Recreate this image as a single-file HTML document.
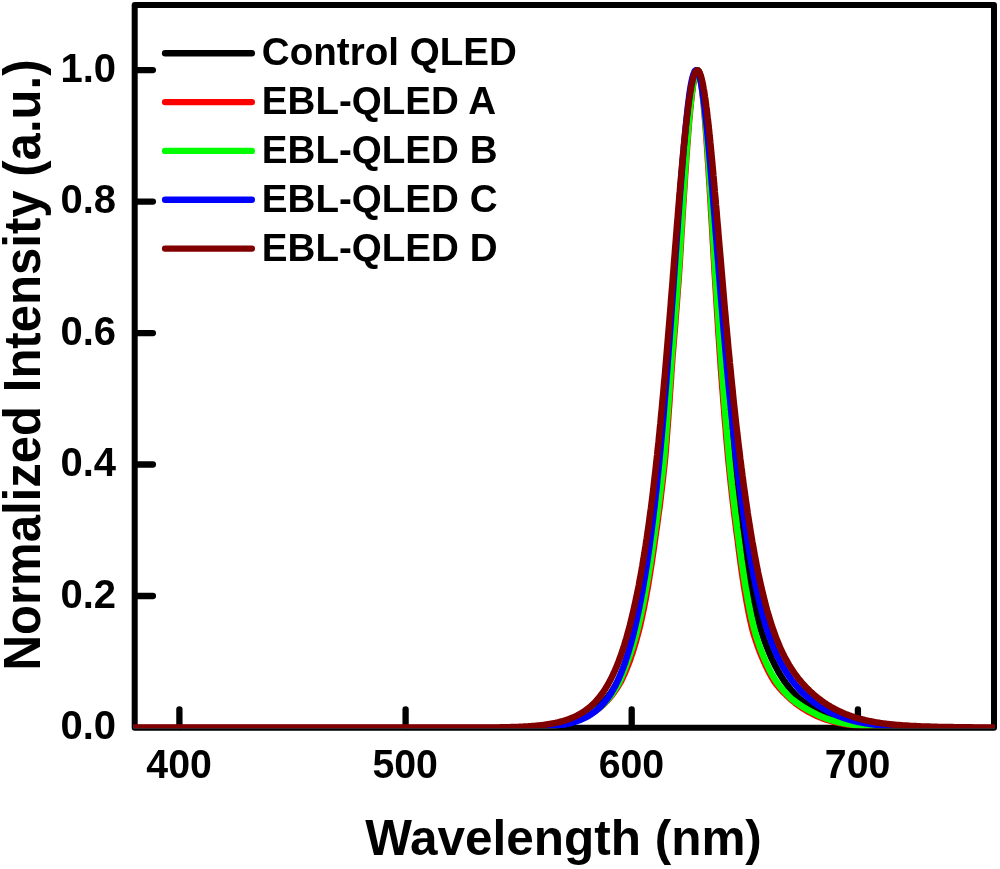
<!DOCTYPE html>
<html lang="en">
<head>
<meta charset="utf-8">
<title>Normalized EL spectra</title>
<style>
html,body{margin:0;padding:0;background:#fff;}
body{width:1000px;height:869px;overflow:hidden;}
svg{display:block;}
</style>
</head>
<body>
<svg width="1000" height="869" viewBox="0 0 1000 869">
<rect width="1000" height="869" fill="#fff"/>
<rect x="134.7" y="5" width="859.3" height="722.8" fill="none" stroke="#000" stroke-width="6" stroke-linejoin="round"/>
<g stroke="#000" stroke-width="6.3" stroke-linecap="round">
<line x1="179.4" y1="727" x2="179.4" y2="709.5"/>
<line x1="405.6" y1="727" x2="405.6" y2="709.5"/>
<line x1="631.7" y1="727" x2="631.7" y2="709.5"/>
<line x1="857.9" y1="727" x2="857.9" y2="709.5"/>
<line x1="137" y1="596.0" x2="152.9" y2="596.0"/>
<line x1="137" y1="464.5" x2="152.9" y2="464.5"/>
<line x1="137" y1="333.1" x2="152.9" y2="333.1"/>
<line x1="137" y1="201.6" x2="152.9" y2="201.6"/>
<line x1="137" y1="70.1" x2="152.9" y2="70.1"/>
</g>
<clipPath id="plotclip"><rect x="133.5" y="0" width="861.3" height="728.2"/></clipPath>
<g fill="none" stroke-width="6.5" stroke-linejoin="round" stroke-linecap="butt" clip-path="url(#plotclip)">
<path stroke="#000000" d="M130.0,728.3 L459.5,728.3 L461.0,728.3 L462.4,728.3 L463.8,728.3 L465.2,728.3 L466.6,728.3 L468.1,728.3 L469.5,728.3 L470.9,728.3 L472.4,728.3 L473.8,728.3 L475.2,728.3 L476.7,728.3 L478.1,728.3 L479.5,728.3 L481.0,728.3 L482.4,728.3 L483.9,728.3 L485.3,728.3 L486.8,728.2 L488.2,728.2 L489.7,728.2 L491.1,728.2 L492.6,728.2 L494.1,728.2 L495.5,728.2 L497.0,728.2 L498.4,728.2 L499.9,728.2 L501.4,728.2 L502.9,728.1 L504.3,728.1 L505.8,728.1 L507.3,728.1 L508.8,728.1 L510.3,728.0 L511.8,728.0 L513.3,728.0 L514.8,728.0 L516.3,727.9 L517.8,727.9 L519.3,727.9 L520.8,727.8 L522.3,727.8 L523.8,727.7 L525.3,727.7 L526.9,727.6 L528.4,727.5 L529.1,727.5 L529.9,727.5 L530.7,727.4 L531.4,727.4 L532.2,727.3 L533.0,727.3 L533.8,727.3 L534.5,727.2 L535.3,727.2 L536.1,727.1 L536.9,727.1 L537.6,727.0 L538.4,727.0 L539.2,726.9 L540.0,726.8 L540.7,726.8 L541.5,726.7 L542.3,726.6 L543.1,726.6 L543.9,726.5 L544.7,726.4 L545.4,726.3 L546.2,726.3 L547.0,726.2 L547.8,726.1 L548.6,726.0 L549.4,725.9 L550.2,725.8 L551.0,725.7 L551.8,725.6 L552.6,725.5 L553.4,725.4 L554.2,725.2 L555.0,725.1 L555.8,725.0 L556.6,724.9 L557.4,724.7 L558.2,724.6 L559.0,724.4 L559.8,724.3 L560.6,724.1 L561.4,724.0 L562.2,723.8 L563.0,723.6 L563.8,723.4 L564.6,723.3 L565.4,723.1 L566.2,722.9 L567.0,722.7 L567.8,722.4 L568.6,722.2 L569.4,722.0 L570.2,721.8 L571.1,721.5 L571.9,721.3 L572.7,721.0 L573.5,720.7 L574.3,720.5 L575.1,720.2 L575.9,719.9 L576.7,719.6 L577.5,719.3 L578.3,718.9 L579.1,718.6 L579.9,718.3 L580.7,717.9 L581.5,717.5 L582.3,717.2 L583.1,716.8 L583.9,716.4 L584.7,716.0 L585.5,715.5 L586.3,715.1 L587.1,714.6 L587.9,714.2 L588.8,713.7 L589.6,713.2 L590.4,712.7 L591.2,712.2 L592.0,711.6 L592.8,711.1 L593.6,710.5 L594.4,709.9 L595.2,709.3 L596.0,708.7 L596.8,708.1 L597.6,707.4 L598.4,706.8 L599.2,706.1 L600.0,705.4 L600.7,704.6 L601.5,703.9 L602.3,703.1 L603.1,702.3 L603.9,701.5 L604.6,700.7 L605.3,699.9 L606.1,699.0 L606.8,698.1 L607.6,697.2 L608.3,696.2 L609.0,695.3 L609.8,694.3 L610.5,693.3 L611.2,692.3 L612.0,691.2 L612.7,690.1 L613.4,689.0 L614.1,687.9 L614.8,686.7 L615.6,685.5 L616.3,684.3 L617.0,683.0 L617.7,681.8 L618.3,680.5 L618.9,679.1 L619.5,677.8 L620.1,676.4 L620.8,674.9 L621.4,673.5 L622.0,672.0 L622.6,670.5 L623.2,668.9 L623.8,667.3 L624.4,665.7 L625.0,664.1 L625.6,662.4 L626.2,660.7 L626.9,658.9 L627.5,657.1 L628.2,655.3 L628.8,653.4 L629.5,651.5 L630.1,649.6 L630.8,647.6 L631.4,645.6 L632.1,643.5 L632.7,641.5 L633.3,639.3 L634.0,637.2 L634.6,635.0 L635.2,632.7 L635.9,630.4 L636.4,628.1 L637.0,625.8 L637.6,623.3 L638.2,620.9 L638.7,618.4 L639.3,615.9 L639.9,613.3 L640.5,610.7 L641.0,608.1 L641.6,605.4 L642.1,602.6 L642.7,599.9 L643.2,597.0 L643.8,594.2 L644.4,591.3 L644.9,588.3 L645.4,585.3 L646.0,582.3 L646.5,579.2 L647.1,576.1 L647.6,573.0 L648.1,569.8 L648.7,566.5 L649.2,563.2 L649.7,559.9 L650.2,556.5 L650.7,553.1 L651.3,549.7 L651.8,546.2 L652.3,542.6 L652.8,539.0 L653.4,535.4 L653.9,531.8 L654.5,528.1 L655.0,524.3 L655.6,520.5 L656.1,516.7 L656.6,512.9 L657.2,509.0 L657.7,505.0 L658.2,501.0 L658.7,497.0 L659.2,493.0 L659.7,488.9 L660.3,484.8 L660.8,480.6 L661.3,476.4 L661.7,472.2 L662.2,468.0 L662.7,463.7 L663.2,459.3 L663.6,455.0 L664.0,450.6 L664.3,446.2 L664.7,441.8 L665.1,437.3 L665.4,432.8 L665.8,428.3 L666.2,423.7 L666.5,419.2 L666.9,414.6 L667.2,410.0 L667.6,405.3 L667.9,400.7 L668.3,396.0 L668.6,391.3 L668.9,386.6 L669.3,381.9 L669.6,377.2 L670.0,372.4 L670.3,367.7 L670.6,362.9 L671.0,358.1 L671.4,353.3 L671.8,348.5 L672.3,343.7 L672.7,338.9 L673.1,334.1 L673.5,329.3 L673.9,324.5 L674.3,319.7 L674.7,314.9 L675.1,310.1 L675.5,305.3 L675.8,300.5 L676.2,295.7 L676.6,290.9 L677.0,286.2 L677.3,281.4 L677.7,276.7 L678.1,272.0 L678.4,267.3 L678.7,262.6 L679.0,258.0 L679.3,253.3 L679.6,248.7 L679.9,244.1 L680.2,239.6 L680.5,235.1 L680.8,230.6 L681.0,226.1 L681.3,221.7 L681.6,217.3 L681.9,212.9 L682.2,208.6 L682.5,204.3 L682.7,200.1 L683.0,195.9 L683.3,191.7 L683.6,187.6 L683.9,183.5 L684.1,179.5 L684.4,175.6 L684.7,171.7 L685.0,167.8 L685.2,164.0 L685.5,160.3 L685.8,156.6 L686.1,153.0 L686.3,149.4 L686.6,145.9 L686.9,142.5 L687.1,139.1 L687.4,135.8 L687.7,132.6 L687.9,129.4 L688.2,126.3 L688.5,123.3 L688.8,120.3 L689.0,117.5 L689.3,114.7 L689.5,111.9 L689.8,109.3 L690.1,106.7 L690.3,104.2 L690.6,101.8 L690.9,99.5 L691.1,97.3 L691.4,95.1 L691.7,93.0 L691.9,91.0 L692.2,89.1 L692.4,87.3 L692.7,85.6 L693.0,84.0 L693.2,82.4 L693.5,81.0 L693.8,79.6 L694.0,78.3 L694.3,77.1 L694.5,76.1 L694.8,75.1 L695.1,74.2 L695.3,73.4 L695.6,72.6 L695.8,72.0 L696.4,71.1 L696.9,70.5 L697.7,70.3 L698.2,70.7 L698.7,71.5 L699.2,72.6 L699.5,73.4 L699.7,74.2 L700.0,75.1 L700.2,76.1 L700.5,77.1 L700.8,78.3 L701.0,79.6 L701.3,81.0 L701.6,82.4 L701.8,84.0 L702.1,85.6 L702.3,87.3 L702.6,89.1 L702.9,91.0 L703.1,93.0 L703.4,95.1 L703.7,97.3 L703.9,99.5 L704.2,101.8 L704.5,104.2 L704.7,106.7 L705.0,109.3 L705.3,111.9 L705.5,114.7 L705.8,117.5 L706.1,120.3 L706.3,123.3 L706.6,126.3 L706.9,129.4 L707.2,132.6 L707.4,135.8 L707.7,139.1 L708.0,142.5 L708.3,145.9 L708.6,149.4 L708.8,153.0 L709.1,156.6 L709.4,160.3 L709.7,164.0 L710.0,167.8 L710.3,171.7 L710.5,175.6 L710.8,179.5 L711.1,183.5 L711.4,187.6 L711.7,191.7 L712.0,195.9 L712.3,200.1 L712.6,204.3 L712.9,208.6 L713.2,212.9 L713.5,217.3 L713.8,221.7 L714.1,226.1 L714.4,230.6 L714.7,235.1 L715.0,239.6 L715.4,244.1 L715.7,248.7 L716.0,253.3 L716.3,258.0 L716.6,262.6 L717.0,267.3 L717.3,272.0 L717.6,276.7 L717.9,281.4 L718.3,286.2 L718.6,290.9 L719.0,295.7 L719.3,300.5 L719.6,305.3 L720.0,310.1 L720.3,314.9 L720.7,319.7 L721.0,324.5 L721.4,329.3 L721.8,334.1 L722.1,338.9 L722.5,343.7 L722.9,348.5 L723.2,353.3 L723.6,358.1 L724.0,362.9 L724.4,367.7 L724.7,372.4 L725.1,377.2 L725.5,381.9 L725.9,386.6 L726.3,391.3 L726.7,396.0 L727.1,400.7 L727.5,405.3 L727.9,410.0 L728.3,414.6 L728.7,419.2 L729.2,423.7 L729.6,428.3 L730.0,432.8 L730.4,437.3 L730.9,441.8 L731.3,446.2 L731.7,450.6 L732.2,455.0 L732.6,459.3 L733.1,463.7 L733.6,468.0 L734.1,472.2 L734.6,476.4 L735.0,480.6 L735.5,484.8 L736.0,488.9 L736.5,493.0 L737.1,497.0 L737.6,501.0 L738.1,505.0 L738.6,509.0 L739.1,512.9 L739.7,516.7 L740.2,520.5 L740.7,524.3 L741.2,528.1 L741.8,531.8 L742.3,535.4 L742.9,539.0 L743.4,542.6 L743.9,546.2 L744.5,549.7 L745.0,553.1 L745.5,556.5 L746.1,559.9 L746.6,563.2 L747.2,566.5 L747.7,569.8 L748.3,573.0 L748.8,576.1 L749.4,579.2 L750.0,582.3 L750.5,585.3 L751.1,588.3 L751.7,591.3 L752.3,594.2 L752.9,597.0 L753.5,599.9 L754.1,602.6 L754.7,605.4 L755.3,608.1 L755.9,610.7 L756.5,613.3 L757.2,615.9 L757.8,618.4 L758.5,620.9 L759.1,623.3 L759.8,625.8 L760.4,628.1 L761.1,630.4 L761.8,632.7 L762.6,635.0 L763.3,637.2 L764.0,639.3 L764.8,641.5 L765.6,643.5 L766.3,645.6 L767.1,647.6 L767.9,649.6 L768.7,651.5 L769.5,653.4 L770.3,655.3 L771.1,657.1 L771.9,658.9 L772.8,660.7 L773.6,662.4 L774.4,664.1 L775.2,665.7 L776.1,667.3 L776.9,668.9 L777.8,670.5 L778.6,672.0 L779.5,673.5 L780.4,674.9 L781.3,676.4 L782.2,677.8 L783.0,679.1 L783.9,680.5 L784.9,681.8 L785.8,683.0 L786.7,684.3 L787.6,685.5 L788.5,686.7 L789.5,687.9 L790.4,689.0 L791.3,690.1 L792.3,691.2 L793.2,692.3 L794.2,693.3 L795.1,694.3 L796.1,695.3 L797.0,696.2 L798.0,697.2 L799.0,698.1 L799.9,699.0 L801.0,699.9 L802.1,700.7 L803.1,701.5 L804.2,702.3 L805.2,703.1 L806.3,703.9 L807.4,704.6 L808.4,705.4 L809.5,706.1 L810.5,706.8 L811.6,707.4 L812.6,708.1 L813.7,708.7 L814.7,709.3 L815.8,709.9 L816.8,710.5 L817.9,711.1 L818.9,711.6 L819.9,712.2 L820.9,712.7 L821.9,713.2 L822.9,713.7 L824.0,714.2 L825.0,714.6 L826.0,715.1 L827.0,715.5 L828.0,716.0 L829.0,716.4 L830.0,716.8 L831.1,717.2 L832.1,717.5 L833.1,717.9 L834.1,718.3 L835.1,718.6 L836.1,718.9 L837.1,719.3 L838.2,719.6 L839.2,719.9 L840.2,720.2 L841.2,720.5 L842.2,720.7 L843.2,721.0 L844.3,721.3 L845.3,721.5 L846.3,721.8 L847.3,722.0 L848.4,722.2 L849.4,722.4 L850.4,722.7 L851.5,722.9 L852.5,723.1 L853.5,723.3 L854.6,723.4 L855.6,723.6 L856.7,723.8 L857.7,724.0 L858.8,724.1 L859.8,724.3 L860.9,724.4 L861.9,724.6 L863.0,724.7 L864.1,724.9 L865.1,725.0 L866.2,725.1 L867.3,725.2 L868.4,725.4 L869.5,725.5 L870.6,725.6 L871.6,725.7 L872.7,725.8 L873.8,725.9 L875.0,726.0 L876.1,726.1 L877.2,726.2 L878.3,726.3 L879.4,726.3 L880.6,726.4 L881.7,726.5 L882.8,726.6 L884.0,726.6 L885.1,726.7 L886.3,726.8 L887.4,726.8 L888.6,726.9 L889.8,727.0 L890.9,727.0 L892.1,727.1 L893.3,727.1 L894.5,727.2 L895.7,727.2 L896.9,727.3 L898.1,727.3 L899.3,727.3 L900.5,727.4 L901.7,727.4 L903.0,727.5 L904.2,727.5 L905.4,727.5 L906.7,727.6 L907.9,727.6 L909.2,727.6 L910.4,727.7 L911.7,727.7 L912.9,727.7 L914.2,727.7 L915.5,727.8 L916.7,727.8 L918.0,727.8 L919.3,727.8 L920.6,727.9 L921.8,727.9 L923.1,727.9 L924.4,727.9 L925.7,727.9 L927.0,727.9 L928.3,728.0 L929.6,728.0 L930.9,728.0 L932.2,728.0 L933.5,728.0 L934.8,728.0 L936.1,728.0 L937.5,728.1 L938.8,728.1 L940.1,728.1 L941.4,728.1 L942.7,728.1 L944.0,728.1 L945.3,728.1 L946.6,728.1 L948.0,728.1 L949.3,728.1 L950.6,728.2 L951.9,728.2 L953.2,728.2 L954.5,728.2 L955.8,728.2 L957.2,728.2 L958.5,728.2 L959.8,728.2 L961.1,728.2 L962.4,728.2 L963.7,728.2 L965.0,728.2 L966.3,728.2 L967.6,728.2 L968.9,728.2 L970.2,728.2 L971.5,728.2 L972.8,728.2 L974.1,728.2 L975.4,728.2 L976.7,728.2 L978.0,728.2 L979.3,728.3 L980.6,728.3 L981.9,728.3 L983.2,728.3 L984.4,728.3 L985.7,728.3 L987.0,728.3 L988.3,728.3 L989.6,728.3 L990.8,728.3 L992.1,728.3 L993.4,728.3 L998.0,728.3"/>
<path stroke="#ff0000" d="M130.0,728.3 L464.5,728.3 L465.9,728.3 L467.3,728.3 L468.7,728.3 L470.1,728.3 L471.5,728.3 L472.9,728.3 L474.3,728.3 L475.7,728.3 L477.1,728.3 L478.5,728.3 L479.9,728.3 L481.3,728.3 L482.7,728.3 L484.1,728.3 L485.5,728.3 L487.0,728.3 L488.4,728.3 L489.8,728.3 L491.2,728.2 L492.6,728.2 L494.1,728.2 L495.5,728.2 L496.9,728.2 L498.3,728.2 L499.8,728.2 L501.2,728.2 L502.6,728.2 L504.1,728.2 L505.5,728.2 L507.0,728.1 L508.4,728.1 L509.9,728.1 L511.3,728.1 L512.8,728.1 L514.2,728.0 L515.7,728.0 L517.1,728.0 L518.6,728.0 L520.1,727.9 L521.5,727.9 L523.0,727.9 L524.5,727.8 L526.0,727.8 L527.5,727.7 L529.0,727.7 L530.4,727.6 L531.9,727.5 L533.4,727.5 L534.9,727.4 L536.5,727.3 L538.0,727.2 L538.7,727.2 L539.5,727.1 L540.2,727.1 L541.0,727.0 L541.8,727.0 L542.5,726.9 L543.3,726.8 L544.0,726.8 L544.8,726.7 L545.6,726.6 L546.3,726.6 L547.1,726.5 L547.9,726.4 L548.7,726.3 L549.4,726.3 L550.2,726.2 L551.0,726.1 L551.7,726.0 L552.5,725.9 L553.3,725.8 L554.1,725.7 L554.8,725.6 L555.6,725.5 L556.4,725.4 L557.2,725.2 L558.0,725.1 L558.8,725.0 L559.5,724.9 L560.3,724.7 L561.1,724.6 L561.9,724.4 L562.7,724.3 L563.5,724.1 L564.2,724.0 L565.0,723.8 L565.8,723.6 L566.6,723.4 L567.4,723.3 L568.2,723.1 L569.0,722.9 L569.8,722.7 L570.6,722.4 L571.4,722.2 L572.1,722.0 L572.9,721.8 L573.7,721.5 L574.5,721.3 L575.3,721.0 L576.1,720.7 L576.9,720.5 L577.7,720.2 L578.5,719.9 L579.3,719.6 L580.1,719.3 L580.8,718.9 L581.6,718.6 L582.4,718.3 L583.2,717.9 L584.0,717.5 L584.8,717.2 L585.6,716.8 L586.3,716.4 L587.1,716.0 L587.9,715.5 L588.7,715.1 L589.5,714.6 L590.3,714.2 L591.1,713.7 L591.9,713.2 L592.8,712.7 L593.6,712.2 L594.4,711.6 L595.2,711.1 L596.0,710.5 L596.8,709.9 L597.6,709.3 L598.4,708.7 L599.2,708.1 L600.0,707.4 L600.8,706.8 L601.6,706.1 L602.4,705.4 L603.2,704.6 L604.0,703.9 L604.8,703.1 L605.6,702.3 L606.4,701.5 L607.2,700.7 L607.9,699.9 L608.7,699.0 L609.5,698.1 L610.2,697.2 L611.0,696.2 L611.8,695.3 L612.5,694.3 L613.3,693.3 L614.0,692.3 L614.8,691.2 L615.6,690.1 L616.3,689.0 L617.1,687.9 L617.8,686.7 L618.5,685.5 L619.3,684.3 L620.0,683.0 L620.8,681.8 L621.4,680.5 L622.1,679.1 L622.7,677.8 L623.4,676.4 L624.0,674.9 L624.7,673.5 L625.3,672.0 L625.9,670.5 L626.6,668.9 L627.2,667.3 L627.9,665.7 L628.5,664.1 L629.1,662.4 L629.8,660.7 L630.4,658.9 L631.0,657.1 L631.6,655.3 L632.3,653.4 L632.9,651.5 L633.5,649.6 L634.1,647.6 L634.7,645.6 L635.3,643.5 L635.9,641.5 L636.5,639.3 L637.1,637.2 L637.7,635.0 L638.3,632.7 L638.9,630.4 L639.5,628.1 L640.1,625.8 L640.6,623.3 L641.2,620.9 L641.7,618.4 L642.2,615.9 L642.8,613.3 L643.3,610.7 L643.9,608.1 L644.4,605.4 L644.9,602.6 L645.5,599.9 L646.0,597.0 L646.5,594.2 L647.0,591.3 L647.6,588.3 L648.1,585.3 L648.6,582.3 L649.1,579.2 L649.6,576.1 L650.1,573.0 L650.6,569.8 L651.1,566.5 L651.6,563.2 L652.1,559.9 L652.6,556.5 L653.1,553.1 L653.6,549.7 L654.1,546.2 L654.6,542.6 L655.1,539.0 L655.6,535.4 L656.1,531.8 L656.7,528.1 L657.2,524.3 L657.7,520.5 L658.2,516.7 L658.7,512.9 L659.3,509.0 L659.8,505.0 L660.3,501.0 L660.8,497.0 L661.2,493.0 L661.7,488.9 L662.2,484.8 L662.7,480.6 L663.2,476.4 L663.6,472.2 L664.1,468.0 L664.6,463.7 L665.0,459.3 L665.4,455.0 L665.8,450.6 L666.1,446.2 L666.5,441.8 L666.8,437.3 L667.1,432.8 L667.5,428.3 L667.8,423.7 L668.2,419.2 L668.5,414.6 L668.8,410.0 L669.2,405.3 L669.5,400.7 L669.8,396.0 L670.1,391.3 L670.5,386.6 L670.8,381.9 L671.1,377.2 L671.4,372.4 L671.7,367.7 L672.1,362.9 L672.4,358.1 L672.8,353.3 L673.2,348.5 L673.6,343.7 L674.0,338.9 L674.4,334.1 L674.8,329.3 L675.2,324.5 L675.5,319.7 L675.9,314.9 L676.3,310.1 L676.7,305.3 L677.0,300.5 L677.4,295.7 L677.7,290.9 L678.1,286.2 L678.5,281.4 L678.8,276.7 L679.1,272.0 L679.5,267.3 L679.8,262.6 L680.0,258.0 L680.3,253.3 L680.6,248.7 L680.9,244.1 L681.1,239.6 L681.4,235.1 L681.7,230.6 L682.0,226.1 L682.2,221.7 L682.5,217.3 L682.8,212.9 L683.0,208.6 L683.3,204.3 L683.6,200.1 L683.8,195.9 L684.1,191.7 L684.4,187.6 L684.6,183.5 L684.9,179.5 L685.1,175.6 L685.4,171.7 L685.7,167.8 L685.9,164.0 L686.2,160.3 L686.4,156.6 L686.7,153.0 L687.0,149.4 L687.2,145.9 L687.5,142.5 L687.7,139.1 L688.0,135.8 L688.2,132.6 L688.5,129.4 L688.7,126.3 L689.0,123.3 L689.2,120.3 L689.5,117.5 L689.7,114.7 L690.0,111.9 L690.2,109.3 L690.5,106.7 L690.7,104.2 L691.0,101.8 L691.2,99.5 L691.5,97.3 L691.7,95.1 L692.0,93.0 L692.2,91.0 L692.5,89.1 L692.7,87.3 L693.0,85.6 L693.2,84.0 L693.5,82.4 L693.7,81.0 L694.0,79.6 L694.2,78.3 L694.5,77.1 L694.7,76.1 L694.9,75.1 L695.2,74.2 L695.4,73.4 L695.7,72.6 L695.9,72.0 L696.4,71.1 L696.9,70.5 L697.6,70.3 L698.1,70.7 L698.6,71.5 L699.0,72.6 L699.2,73.4 L699.5,74.2 L699.7,75.1 L699.9,76.1 L700.2,77.1 L700.4,78.3 L700.6,79.6 L700.9,81.0 L701.1,82.4 L701.3,84.0 L701.6,85.6 L701.8,87.3 L702.0,89.1 L702.3,91.0 L702.5,93.0 L702.7,95.1 L702.9,97.3 L703.2,99.5 L703.4,101.8 L703.7,104.2 L703.9,106.7 L704.1,109.3 L704.4,111.9 L704.6,114.7 L704.8,117.5 L705.1,120.3 L705.3,123.3 L705.5,126.3 L705.8,129.4 L706.0,132.6 L706.3,135.8 L706.5,139.1 L706.7,142.5 L707.0,145.9 L707.2,149.4 L707.5,153.0 L707.7,156.6 L707.9,160.3 L708.2,164.0 L708.4,167.8 L708.7,171.7 L708.9,175.6 L709.2,179.5 L709.4,183.5 L709.7,187.6 L709.9,191.7 L710.2,195.9 L710.4,200.1 L710.7,204.3 L710.9,208.6 L711.2,212.9 L711.4,217.3 L711.7,221.7 L712.0,226.1 L712.2,230.6 L712.5,235.1 L712.7,239.6 L713.0,244.1 L713.3,248.7 L713.5,253.3 L713.8,258.0 L714.1,262.6 L714.3,267.3 L714.6,272.0 L714.9,276.7 L715.2,281.4 L715.5,286.2 L715.8,290.9 L716.1,295.7 L716.4,300.5 L716.7,305.3 L717.0,310.1 L717.3,314.9 L717.6,319.7 L717.9,324.5 L718.2,329.3 L718.5,334.1 L718.9,338.9 L719.2,343.7 L719.5,348.5 L719.8,353.3 L720.2,358.1 L720.5,362.9 L720.8,367.7 L721.2,372.4 L721.5,377.2 L721.9,381.9 L722.2,386.6 L722.6,391.3 L723.0,396.0 L723.3,400.7 L723.7,405.3 L724.1,410.0 L724.4,414.6 L724.8,419.2 L725.2,423.7 L725.6,428.3 L725.9,432.8 L726.3,437.3 L726.7,441.8 L727.1,446.2 L727.5,450.6 L727.9,455.0 L728.3,459.3 L728.7,463.7 L729.2,468.0 L729.6,472.2 L730.0,476.4 L730.5,480.6 L730.9,484.8 L731.4,488.9 L731.8,493.0 L732.3,497.0 L732.7,501.0 L733.2,505.0 L733.7,509.0 L734.1,512.9 L734.6,516.7 L735.1,520.5 L735.6,524.3 L736.0,528.1 L736.5,531.8 L737.0,535.4 L737.5,539.0 L738.0,542.6 L738.4,546.2 L738.8,549.7 L739.3,553.1 L739.7,556.5 L740.2,559.9 L740.6,563.2 L741.1,566.5 L741.5,569.8 L742.0,573.0 L742.4,576.1 L742.9,579.2 L743.4,582.3 L743.8,585.3 L744.3,588.3 L744.8,591.3 L745.3,594.2 L745.8,597.0 L746.3,599.9 L746.8,602.6 L747.3,605.4 L747.8,608.1 L748.3,610.7 L748.8,613.3 L749.3,615.9 L749.9,618.4 L750.4,620.9 L751.0,623.3 L751.5,625.8 L752.1,628.1 L752.7,630.4 L753.3,632.7 L754.0,635.0 L754.7,637.2 L755.4,639.3 L756.1,641.5 L756.8,643.5 L757.5,645.6 L758.3,647.6 L759.0,649.6 L759.7,651.5 L760.5,653.4 L761.2,655.3 L762.0,657.1 L762.8,658.9 L763.6,660.7 L764.3,662.4 L765.1,664.1 L765.8,665.7 L766.6,667.3 L767.4,668.9 L768.1,670.5 L768.9,672.0 L769.7,673.5 L770.5,674.9 L771.3,676.4 L772.1,677.8 L772.9,679.1 L773.7,680.5 L774.5,681.8 L775.5,683.0 L776.4,684.3 L777.4,685.5 L778.4,686.7 L779.4,687.9 L780.4,689.0 L781.4,690.1 L782.4,691.2 L783.4,692.3 L784.5,693.3 L785.5,694.3 L786.5,695.3 L787.5,696.2 L788.5,697.2 L789.5,698.1 L790.5,699.0 L791.5,699.9 L792.5,700.7 L793.5,701.5 L794.5,702.3 L795.5,703.1 L796.5,703.9 L797.5,704.6 L798.5,705.4 L799.5,706.1 L800.5,706.8 L801.5,707.4 L802.4,708.1 L803.4,708.7 L804.4,709.3 L805.4,709.9 L806.4,710.5 L807.4,711.1 L808.3,711.6 L809.3,712.2 L810.2,712.7 L811.2,713.2 L812.1,713.7 L813.1,714.2 L814.0,714.6 L815.0,715.1 L815.9,715.5 L816.9,716.0 L817.8,716.4 L818.8,716.8 L819.7,717.2 L820.7,717.5 L821.6,717.9 L822.6,718.3 L823.5,718.6 L824.4,718.9 L825.4,719.3 L826.3,719.6 L827.3,719.9 L828.2,720.2 L829.2,720.5 L830.1,720.7 L831.1,721.0 L832.0,721.3 L833.0,721.5 L833.9,721.8 L834.9,722.0 L835.9,722.2 L836.8,722.4 L837.8,722.7 L838.7,722.9 L839.7,723.1 L840.7,723.3 L841.6,723.4 L842.6,723.6 L843.6,723.8 L844.5,724.0 L845.5,724.1 L846.5,724.3 L847.5,724.4 L848.5,724.6 L849.4,724.7 L850.4,724.9 L851.4,725.0 L852.4,725.1 L853.4,725.2 L854.4,725.4 L855.4,725.5 L856.4,725.6 L857.4,725.7 L858.5,725.8 L859.5,725.9 L860.5,726.0 L861.5,726.1 L862.6,726.2 L863.6,726.3 L864.6,726.3 L865.7,726.4 L866.7,726.5 L867.8,726.6 L868.8,726.6 L869.9,726.7 L871.0,726.8 L872.0,726.8 L873.1,726.9 L874.2,727.0 L875.3,727.0 L876.4,727.1 L877.4,727.1 L878.5,727.2 L879.6,727.2 L880.8,727.3 L881.9,727.3 L883.0,727.3 L884.1,727.4 L885.2,727.4 L886.4,727.5 L887.5,727.5 L888.6,727.5 L889.8,727.6 L890.9,727.6 L892.1,727.6 L893.2,727.7 L894.4,727.7 L895.5,727.7 L896.7,727.7 L897.9,727.8 L899.0,727.8 L900.2,727.8 L901.4,727.8 L902.6,727.9 L903.8,727.9 L904.9,727.9 L906.1,727.9 L907.3,727.9 L908.5,727.9 L909.7,728.0 L910.9,728.0 L912.1,728.0 L913.3,728.0 L914.5,728.0 L915.7,728.0 L916.9,728.0 L918.1,728.1 L919.3,728.1 L920.5,728.1 L921.7,728.1 L922.9,728.1 L924.2,728.1 L925.4,728.1 L926.6,728.1 L927.8,728.1 L929.0,728.1 L930.2,728.2 L931.4,728.2 L932.6,728.2 L933.8,728.2 L935.0,728.2 L936.2,728.2 L937.4,728.2 L938.7,728.2 L939.9,728.2 L941.1,728.2 L942.3,728.2 L943.5,728.2 L944.7,728.2 L945.9,728.2 L947.1,728.2 L948.3,728.2 L949.5,728.2 L950.7,728.2 L951.8,728.2 L953.0,728.2 L954.2,728.2 L955.4,728.2 L956.6,728.3 L957.8,728.3 L959.0,728.3 L960.2,728.3 L961.3,728.3 L962.5,728.3 L963.7,728.3 L964.9,728.3 L966.1,728.3 L967.2,728.3 L968.4,728.3 L969.6,728.3 L970.7,728.3 L971.9,728.3 L973.1,728.3 L974.2,728.3 L975.4,728.3 L976.6,728.3 L977.7,728.3 L978.9,728.3 L980.0,728.3 L981.2,728.3 L982.4,728.3 L983.5,728.3 L984.7,728.3 L985.8,728.3 L987.0,728.3 L988.1,728.3 L989.3,728.3 L990.4,728.3 L991.5,728.3 L992.7,728.3 L993.8,728.3 L998.0,728.3"/>
<path stroke="#00ff00" d="M130.0,728.3 L464.5,728.3 L465.9,728.3 L467.3,728.3 L468.7,728.3 L470.1,728.3 L471.5,728.3 L472.9,728.3 L474.3,728.3 L475.7,728.3 L477.1,728.3 L478.5,728.3 L479.9,728.3 L481.3,728.3 L482.7,728.3 L484.1,728.3 L485.5,728.3 L487.0,728.3 L488.4,728.3 L489.8,728.3 L491.2,728.2 L492.6,728.2 L494.1,728.2 L495.5,728.2 L496.9,728.2 L498.3,728.2 L499.8,728.2 L501.2,728.2 L502.6,728.2 L504.1,728.2 L505.5,728.2 L507.0,728.1 L508.4,728.1 L509.9,728.1 L511.3,728.1 L512.8,728.1 L514.2,728.0 L515.7,728.0 L517.1,728.0 L518.6,728.0 L520.1,727.9 L521.5,727.9 L523.0,727.9 L524.5,727.8 L526.0,727.8 L527.5,727.7 L529.0,727.7 L530.4,727.6 L531.9,727.5 L533.4,727.5 L534.9,727.4 L536.5,727.3 L538.0,727.2 L538.7,727.2 L539.5,727.1 L540.2,727.1 L541.0,727.0 L541.8,727.0 L542.5,726.9 L543.3,726.8 L544.0,726.8 L544.8,726.7 L545.6,726.6 L546.3,726.6 L547.1,726.5 L547.9,726.4 L548.7,726.3 L549.4,726.3 L550.2,726.2 L551.0,726.1 L551.7,726.0 L552.5,725.9 L553.3,725.8 L554.1,725.7 L554.8,725.6 L555.6,725.5 L556.4,725.4 L557.2,725.2 L558.0,725.1 L558.8,725.0 L559.5,724.9 L560.3,724.7 L561.1,724.6 L561.9,724.4 L562.7,724.3 L563.5,724.1 L564.2,724.0 L565.0,723.8 L565.8,723.6 L566.6,723.4 L567.4,723.3 L568.2,723.1 L569.0,722.9 L569.8,722.7 L570.6,722.4 L571.4,722.2 L572.1,722.0 L572.9,721.8 L573.7,721.5 L574.5,721.3 L575.3,721.0 L576.1,720.7 L576.9,720.5 L577.7,720.2 L578.5,719.9 L579.3,719.6 L580.1,719.3 L580.8,718.9 L581.6,718.6 L582.4,718.3 L583.2,717.9 L584.0,717.5 L584.8,717.2 L585.6,716.8 L586.3,716.4 L587.1,716.0 L587.9,715.5 L588.7,715.1 L589.5,714.6 L590.3,714.2 L591.1,713.7 L591.9,713.2 L592.7,712.7 L593.4,712.2 L594.2,711.6 L595.0,711.1 L595.8,710.5 L596.6,709.9 L597.4,709.3 L598.2,708.7 L598.9,708.1 L599.7,707.4 L600.5,706.8 L601.3,706.1 L602.0,705.4 L602.8,704.6 L603.6,703.9 L604.4,703.1 L605.1,702.3 L605.9,701.5 L606.6,700.7 L607.3,699.9 L608.1,699.0 L608.8,698.1 L609.5,697.2 L610.2,696.2 L611.0,695.3 L611.7,694.3 L612.4,693.3 L613.1,692.3 L613.8,691.2 L614.5,690.1 L615.2,689.0 L615.9,687.9 L616.7,686.7 L617.4,685.5 L618.1,684.3 L618.8,683.0 L619.4,681.8 L620.0,680.5 L620.6,679.1 L621.2,677.8 L621.8,676.4 L622.4,674.9 L623.0,673.5 L623.6,672.0 L624.2,670.5 L624.8,668.9 L625.4,667.3 L626.0,665.7 L626.6,664.1 L627.2,662.4 L627.8,660.7 L628.4,658.9 L629.1,657.1 L629.7,655.3 L630.4,653.4 L631.0,651.5 L631.6,649.6 L632.3,647.6 L632.9,645.6 L633.5,643.5 L634.1,641.5 L634.8,639.3 L635.4,637.2 L636.0,635.0 L636.6,632.7 L637.2,630.4 L637.8,628.1 L638.4,625.8 L638.9,623.3 L639.5,620.9 L640.1,618.4 L640.6,615.9 L641.2,613.3 L641.7,610.7 L642.3,608.1 L642.8,605.4 L643.4,602.6 L643.9,599.9 L644.5,597.0 L645.0,594.2 L645.5,591.3 L646.1,588.3 L646.6,585.3 L647.1,582.3 L647.7,579.2 L648.2,576.1 L648.7,573.0 L649.2,569.8 L649.8,566.5 L650.3,563.2 L650.8,559.9 L651.3,556.5 L651.8,553.1 L652.3,549.7 L652.8,546.2 L653.3,542.6 L653.8,539.0 L654.4,535.4 L654.9,531.8 L655.4,528.1 L656.0,524.3 L656.5,520.5 L657.0,516.7 L657.6,512.9 L658.1,509.0 L658.6,505.0 L659.1,501.0 L659.6,497.0 L660.1,493.0 L660.6,488.9 L661.1,484.8 L661.6,480.6 L662.1,476.4 L662.6,472.2 L663.1,468.0 L663.5,463.7 L664.0,459.3 L664.4,455.0 L664.8,450.6 L665.1,446.2 L665.5,441.8 L665.8,437.3 L666.2,432.8 L666.5,428.3 L666.9,423.7 L667.2,419.2 L667.6,414.6 L667.9,410.0 L668.3,405.3 L668.6,400.7 L669.0,396.0 L669.3,391.3 L669.6,386.6 L670.0,381.9 L670.3,377.2 L670.6,372.4 L670.9,367.7 L671.3,362.9 L671.6,358.1 L672.0,353.3 L672.5,348.5 L672.9,343.7 L673.3,338.9 L673.7,334.1 L674.1,329.3 L674.5,324.5 L674.8,319.7 L675.2,314.9 L675.6,310.1 L676.0,305.3 L676.4,300.5 L676.7,295.7 L677.1,290.9 L677.5,286.2 L677.8,281.4 L678.2,276.7 L678.5,272.0 L678.9,267.3 L679.2,262.6 L679.5,258.0 L679.8,253.3 L680.0,248.7 L680.3,244.1 L680.6,239.6 L680.9,235.1 L681.2,230.6 L681.4,226.1 L681.7,221.7 L682.0,217.3 L682.3,212.9 L682.6,208.6 L682.8,204.3 L683.1,200.1 L683.4,195.9 L683.7,191.7 L683.9,187.6 L684.2,183.5 L684.5,179.5 L684.7,175.6 L685.0,171.7 L685.3,167.8 L685.5,164.0 L685.8,160.3 L686.1,156.6 L686.3,153.0 L686.6,149.4 L686.9,145.9 L687.1,142.5 L687.4,139.1 L687.7,135.8 L687.9,132.6 L688.2,129.4 L688.4,126.3 L688.7,123.3 L689.0,120.3 L689.2,117.5 L689.5,114.7 L689.7,111.9 L690.0,109.3 L690.3,106.7 L690.5,104.2 L690.8,101.8 L691.0,99.5 L691.3,97.3 L691.5,95.1 L691.8,93.0 L692.1,91.0 L692.3,89.1 L692.6,87.3 L692.8,85.6 L693.1,84.0 L693.3,82.4 L693.6,81.0 L693.8,79.6 L694.1,78.3 L694.4,77.1 L694.6,76.1 L694.9,75.1 L695.1,74.2 L695.4,73.4 L695.6,72.6 L695.9,72.0 L696.4,71.1 L696.9,70.5 L697.6,70.3 L698.1,70.7 L698.6,71.5 L699.1,72.6 L699.3,73.4 L699.6,74.2 L699.8,75.1 L700.0,76.1 L700.3,77.1 L700.5,78.3 L700.8,79.6 L701.0,81.0 L701.2,82.4 L701.5,84.0 L701.7,85.6 L702.0,87.3 L702.2,89.1 L702.5,91.0 L702.7,93.0 L703.0,95.1 L703.2,97.3 L703.4,99.5 L703.7,101.8 L703.9,104.2 L704.2,106.7 L704.4,109.3 L704.7,111.9 L704.9,114.7 L705.2,117.5 L705.4,120.3 L705.7,123.3 L705.9,126.3 L706.2,129.4 L706.4,132.6 L706.7,135.8 L707.0,139.1 L707.2,142.5 L707.5,145.9 L707.7,149.4 L708.0,153.0 L708.2,156.6 L708.5,160.3 L708.7,164.0 L709.0,167.8 L709.2,171.7 L709.5,175.6 L709.7,179.5 L710.0,183.5 L710.2,187.6 L710.5,191.7 L710.8,195.9 L711.0,200.1 L711.3,204.3 L711.5,208.6 L711.8,212.9 L712.0,217.3 L712.3,221.7 L712.6,226.1 L712.8,230.6 L713.1,235.1 L713.3,239.6 L713.6,244.1 L713.9,248.7 L714.1,253.3 L714.4,258.0 L714.7,262.6 L714.9,267.3 L715.2,272.0 L715.5,276.7 L715.8,281.4 L716.2,286.2 L716.5,290.9 L716.8,295.7 L717.1,300.5 L717.4,305.3 L717.8,310.1 L718.1,314.9 L718.4,319.7 L718.7,324.5 L719.1,329.3 L719.4,334.1 L719.7,338.9 L720.1,343.7 L720.4,348.5 L720.8,353.3 L721.1,358.1 L721.5,362.9 L721.8,367.7 L722.2,372.4 L722.5,377.2 L722.9,381.9 L723.2,386.6 L723.6,391.3 L723.9,396.0 L724.3,400.7 L724.7,405.3 L725.0,410.0 L725.4,414.6 L725.8,419.2 L726.2,423.7 L726.5,428.3 L726.9,432.8 L727.3,437.3 L727.7,441.8 L728.1,446.2 L728.5,450.6 L728.9,455.0 L729.3,459.3 L729.7,463.7 L730.1,468.0 L730.6,472.2 L731.0,476.4 L731.5,480.6 L731.9,484.8 L732.4,488.9 L732.9,493.0 L733.3,497.0 L733.8,501.0 L734.3,505.0 L734.7,509.0 L735.2,512.9 L735.7,516.7 L736.2,520.5 L736.7,524.3 L737.1,528.1 L737.6,531.8 L738.1,535.4 L738.6,539.0 L739.1,542.6 L739.6,546.2 L740.0,549.7 L740.5,553.1 L741.0,556.5 L741.4,559.9 L741.9,563.2 L742.4,566.5 L742.9,569.8 L743.4,573.0 L743.8,576.1 L744.3,579.2 L744.8,582.3 L745.3,585.3 L745.8,588.3 L746.4,591.3 L746.9,594.2 L747.4,597.0 L747.9,599.9 L748.4,602.6 L749.0,605.4 L749.5,608.1 L750.0,610.7 L750.6,613.3 L751.1,615.9 L751.7,618.4 L752.3,620.9 L752.8,623.3 L753.4,625.8 L754.0,628.1 L754.6,630.4 L755.3,632.7 L755.9,635.0 L756.6,637.2 L757.3,639.3 L758.0,641.5 L758.7,643.5 L759.4,645.6 L760.1,647.6 L760.8,649.6 L761.5,651.5 L762.3,653.4 L763.0,655.3 L763.8,657.1 L764.5,658.9 L765.3,660.7 L766.1,662.4 L766.8,664.1 L767.6,665.7 L768.4,667.3 L769.1,668.9 L769.9,670.5 L770.7,672.0 L771.5,673.5 L772.3,674.9 L773.2,676.4 L774.0,677.8 L774.8,679.1 L775.7,680.5 L776.5,681.8 L777.4,683.0 L778.3,684.3 L779.3,685.5 L780.2,686.7 L781.2,687.9 L782.1,689.0 L783.1,690.1 L784.0,691.2 L785.0,692.3 L785.9,693.3 L786.9,694.3 L787.9,695.3 L788.8,696.2 L789.8,697.2 L790.8,698.1 L791.8,699.0 L792.9,699.9 L794.0,700.7 L795.1,701.5 L796.2,702.3 L797.3,703.1 L798.4,703.9 L799.5,704.6 L800.5,705.4 L801.6,706.1 L802.7,706.8 L803.8,707.4 L804.9,708.1 L806.0,708.7 L807.1,709.3 L808.1,709.9 L809.2,710.5 L810.3,711.1 L811.3,711.6 L812.3,712.2 L813.2,712.7 L814.2,713.2 L815.2,713.7 L816.1,714.2 L817.1,714.6 L818.1,715.1 L819.0,715.5 L820.0,716.0 L821.0,716.4 L821.9,716.8 L822.9,717.2 L823.9,717.5 L824.8,717.9 L825.8,718.3 L826.8,718.6 L827.7,718.9 L828.7,719.3 L829.7,719.6 L830.7,719.9 L831.6,720.2 L832.6,720.5 L833.6,720.7 L834.5,721.0 L835.5,721.3 L836.5,721.5 L837.5,721.8 L838.4,722.0 L839.4,722.2 L840.4,722.4 L841.4,722.7 L842.4,722.9 L843.3,723.1 L844.3,723.3 L845.3,723.4 L846.3,723.6 L847.3,723.8 L848.3,724.0 L849.3,724.1 L850.3,724.3 L851.3,724.4 L852.3,724.6 L853.3,724.7 L854.3,724.9 L855.3,725.0 L856.3,725.1 L857.4,725.2 L858.4,725.4 L859.4,725.5 L860.5,725.6 L861.5,725.7 L862.5,725.8 L863.6,725.9 L864.6,726.0 L865.7,726.1 L866.7,726.2 L867.8,726.3 L868.8,726.3 L869.9,726.4 L871.0,726.5 L872.1,726.6 L873.1,726.6 L874.2,726.7 L875.3,726.8 L876.4,726.8 L877.5,726.9 L878.6,727.0 L879.7,727.0 L880.9,727.1 L882.0,727.1 L883.1,727.2 L884.2,727.2 L885.4,727.3 L886.5,727.3 L887.6,727.3 L888.8,727.4 L889.9,727.4 L891.1,727.5 L892.3,727.5 L893.4,727.5 L894.6,727.6 L895.8,727.6 L896.9,727.6 L898.1,727.7 L899.3,727.7 L900.5,727.7 L901.7,727.7 L902.9,727.8 L904.1,727.8 L905.3,727.8 L906.5,727.8 L907.7,727.9 L908.9,727.9 L910.1,727.9 L911.4,727.9 L912.6,727.9 L913.8,727.9 L915.0,728.0 L916.2,728.0 L917.5,728.0 L918.7,728.0 L919.9,728.0 L921.2,728.0 L922.4,728.0 L923.6,728.1 L924.9,728.1 L926.1,728.1 L927.4,728.1 L928.6,728.1 L929.8,728.1 L931.1,728.1 L932.3,728.1 L933.5,728.1 L934.8,728.1 L936.0,728.2 L937.3,728.2 L938.5,728.2 L939.7,728.2 L941.0,728.2 L942.2,728.2 L943.5,728.2 L944.7,728.2 L945.9,728.2 L947.2,728.2 L948.4,728.2 L949.6,728.2 L950.9,728.2 L952.1,728.2 L953.3,728.2 L954.5,728.2 L955.8,728.2 L957.0,728.2 L958.2,728.2 L959.4,728.2 L960.7,728.2 L961.9,728.2 L963.1,728.3 L964.3,728.3 L965.5,728.3 L966.7,728.3 L967.9,728.3 L969.2,728.3 L970.4,728.3 L971.6,728.3 L972.8,728.3 L974.0,728.3 L975.2,728.3 L976.4,728.3 L977.6,728.3 L978.8,728.3 L980.0,728.3 L981.2,728.3 L982.4,728.3 L983.6,728.3 L984.7,728.3 L985.9,728.3 L987.1,728.3 L988.3,728.3 L989.5,728.3 L990.7,728.3 L991.8,728.3 L993.0,728.3 L998.0,728.3"/>
<path stroke="#0000ff" d="M130.0,728.3 L470.8,728.3 L472.1,728.3 L473.4,728.3 L474.8,728.3 L476.1,728.3 L477.5,728.3 L478.8,728.3 L480.2,728.3 L481.6,728.3 L482.9,728.3 L484.3,728.3 L485.6,728.3 L487.0,728.3 L488.3,728.3 L489.7,728.3 L491.1,728.3 L492.4,728.3 L493.8,728.3 L495.2,728.3 L496.6,728.2 L497.9,728.2 L499.3,728.2 L500.7,728.2 L502.1,728.2 L503.4,728.2 L504.8,728.2 L506.2,728.2 L507.6,728.2 L509.0,728.2 L510.4,728.2 L511.8,728.1 L513.2,728.1 L514.6,728.1 L516.0,728.1 L517.4,728.1 L518.8,728.0 L520.2,728.0 L521.6,728.0 L523.0,728.0 L524.4,727.9 L525.9,727.9 L527.3,727.9 L528.7,727.8 L530.1,727.8 L531.6,727.7 L533.0,727.7 L534.4,727.6 L535.9,727.5 L537.3,727.5 L538.8,727.4 L540.2,727.3 L541.7,727.2 L543.1,727.1 L544.6,727.0 L546.0,726.9 L547.5,726.8 L549.0,726.6 L549.7,726.6 L550.4,726.5 L551.2,726.4 L551.9,726.3 L552.7,726.3 L553.4,726.2 L554.1,726.1 L554.9,726.0 L555.6,725.9 L556.4,725.8 L557.1,725.7 L557.8,725.6 L558.6,725.5 L559.3,725.4 L560.1,725.2 L560.8,725.1 L561.6,725.0 L562.3,724.9 L563.1,724.7 L563.8,724.6 L564.5,724.4 L565.3,724.3 L566.0,724.1 L566.8,724.0 L567.5,723.8 L568.3,723.6 L569.0,723.4 L569.8,723.3 L570.5,723.1 L571.3,722.9 L572.0,722.7 L572.8,722.4 L573.5,722.2 L574.3,722.0 L575.0,721.8 L575.8,721.5 L576.5,721.3 L577.2,721.0 L578.0,720.7 L578.7,720.5 L579.5,720.2 L580.2,719.9 L581.0,719.6 L581.7,719.3 L582.4,718.9 L583.2,718.6 L583.9,718.3 L584.6,717.9 L585.4,717.5 L586.1,717.2 L586.8,716.8 L587.6,716.4 L588.3,716.0 L589.0,715.5 L589.7,715.1 L590.5,714.6 L591.2,714.2 L591.9,713.7 L592.6,713.2 L593.3,712.7 L594.0,712.2 L594.7,711.6 L595.4,711.1 L596.1,710.5 L596.8,709.9 L597.5,709.3 L598.2,708.7 L598.9,708.1 L599.6,707.4 L600.3,706.8 L601.0,706.1 L601.7,705.4 L602.4,704.6 L603.0,703.9 L603.7,703.1 L604.4,702.3 L605.0,701.5 L605.7,700.7 L606.4,699.9 L607.0,699.0 L607.7,698.1 L608.4,697.2 L609.0,696.2 L609.7,695.3 L610.3,694.3 L610.9,693.3 L611.6,692.3 L612.2,691.2 L612.9,690.1 L613.5,689.0 L614.1,687.9 L614.8,686.7 L615.4,685.5 L616.0,684.3 L616.6,683.0 L617.2,681.8 L617.9,680.5 L618.5,679.1 L619.1,677.8 L619.7,676.4 L620.3,674.9 L620.9,673.5 L621.5,672.0 L622.1,670.5 L622.7,668.9 L623.3,667.3 L623.9,665.7 L624.5,664.1 L625.1,662.4 L625.7,660.7 L626.2,658.9 L626.8,657.1 L627.4,655.3 L628.0,653.4 L628.6,651.5 L629.1,649.6 L629.7,647.6 L630.3,645.6 L630.9,643.5 L631.4,641.5 L632.0,639.3 L632.6,637.2 L633.1,635.0 L633.7,632.7 L634.2,630.4 L634.8,628.1 L635.3,625.8 L635.9,623.3 L636.4,620.9 L637.0,618.4 L637.5,615.9 L638.1,613.3 L638.6,610.7 L639.2,608.1 L639.7,605.4 L640.2,602.6 L640.8,599.9 L641.3,597.0 L641.8,594.2 L642.4,591.3 L642.9,588.3 L643.4,585.3 L643.9,582.3 L644.4,579.2 L645.0,576.1 L645.5,573.0 L646.0,569.8 L646.5,566.5 L647.0,563.2 L647.5,559.9 L648.0,556.5 L648.5,553.1 L649.0,549.7 L649.5,546.2 L650.0,542.6 L650.4,539.0 L650.9,535.4 L651.4,531.8 L651.9,528.1 L652.3,524.3 L652.8,520.5 L653.3,516.7 L653.7,512.9 L654.2,509.0 L654.7,505.0 L655.1,501.0 L655.6,497.0 L656.0,493.0 L656.5,488.9 L656.9,484.8 L657.3,480.6 L657.8,476.4 L658.2,472.2 L658.6,468.0 L659.1,463.7 L659.5,459.3 L659.9,455.0 L660.3,450.6 L660.7,446.2 L661.1,441.8 L661.6,437.3 L662.0,432.8 L662.4,428.3 L662.8,423.7 L663.2,419.2 L663.6,414.6 L664.0,410.0 L664.3,405.3 L664.7,400.7 L665.1,396.0 L665.5,391.3 L665.9,386.6 L666.3,381.9 L666.6,377.2 L667.0,372.4 L667.4,367.7 L667.7,362.9 L668.1,358.1 L668.5,353.3 L668.8,348.5 L669.2,343.7 L669.6,338.9 L669.9,334.1 L670.3,329.3 L670.6,324.5 L671.0,319.7 L671.3,314.9 L671.7,310.1 L672.0,305.3 L672.4,300.5 L672.7,295.7 L673.1,290.9 L673.4,286.2 L673.7,281.4 L674.1,276.7 L674.4,272.0 L674.7,267.3 L675.1,262.6 L675.4,258.0 L675.7,253.3 L676.1,248.7 L676.4,244.1 L676.7,239.6 L677.0,235.1 L677.4,230.6 L677.7,226.1 L678.0,221.7 L678.3,217.3 L678.7,212.9 L679.0,208.6 L679.3,204.3 L679.6,200.1 L679.9,195.9 L680.2,191.7 L680.6,187.6 L680.9,183.5 L681.2,179.5 L681.5,175.6 L681.8,171.7 L682.1,167.8 L682.4,164.0 L682.7,160.3 L683.0,156.6 L683.3,153.0 L683.6,149.4 L683.9,145.9 L684.3,142.5 L684.6,139.1 L684.9,135.8 L685.2,132.6 L685.5,129.4 L685.8,126.3 L686.1,123.3 L686.4,120.3 L686.7,117.5 L687.0,114.7 L687.3,111.9 L687.6,109.3 L687.9,106.7 L688.2,104.2 L688.5,101.8 L688.8,99.5 L689.1,97.3 L689.3,95.1 L689.6,93.0 L689.9,91.0 L690.2,89.1 L690.5,87.3 L690.8,85.6 L691.1,84.0 L691.4,82.4 L691.7,81.0 L692.0,79.6 L692.3,78.3 L692.6,77.1 L692.9,76.1 L693.2,75.1 L693.5,74.2 L693.8,73.4 L694.1,72.6 L694.3,72.0 L694.6,71.5 L695.2,70.7 L695.8,70.3 L696.7,70.5 L697.3,71.1 L697.9,72.0 L698.2,72.6 L698.5,73.4 L698.8,74.2 L699.1,75.1 L699.4,76.1 L699.7,77.1 L700.0,78.3 L700.3,79.6 L700.6,81.0 L700.9,82.4 L701.2,84.0 L701.5,85.6 L701.8,87.3 L702.1,89.1 L702.4,91.0 L702.7,93.0 L703.0,95.1 L703.3,97.3 L703.6,99.5 L703.9,101.8 L704.2,104.2 L704.5,106.7 L704.8,109.3 L705.1,111.9 L705.4,114.7 L705.7,117.5 L706.0,120.3 L706.4,123.3 L706.7,126.3 L707.0,129.4 L707.3,132.6 L707.6,135.8 L707.9,139.1 L708.2,142.5 L708.6,145.9 L708.9,149.4 L709.2,153.0 L709.5,156.6 L709.9,160.3 L710.2,164.0 L710.5,167.8 L710.8,171.7 L711.2,175.6 L711.5,179.5 L711.8,183.5 L712.2,187.6 L712.5,191.7 L712.8,195.9 L713.2,200.1 L713.5,204.3 L713.9,208.6 L714.2,212.9 L714.6,217.3 L714.9,221.7 L715.3,226.1 L715.6,230.6 L716.0,235.1 L716.3,239.6 L716.7,244.1 L717.0,248.7 L717.4,253.3 L717.8,258.0 L718.2,262.6 L718.5,267.3 L718.9,272.0 L719.3,276.7 L719.7,281.4 L720.0,286.2 L720.4,290.9 L720.8,295.7 L721.2,300.5 L721.6,305.3 L722.0,310.1 L722.4,314.9 L722.8,319.7 L723.2,324.5 L723.6,329.3 L724.0,334.1 L724.4,338.9 L724.9,343.7 L725.3,348.5 L725.7,353.3 L726.1,358.1 L726.6,362.9 L727.0,367.7 L727.4,372.4 L727.9,377.2 L728.3,381.9 L728.8,386.6 L729.2,391.3 L729.7,396.0 L730.2,400.7 L730.6,405.3 L731.1,410.0 L731.6,414.6 L732.0,419.2 L732.5,423.7 L733.0,428.3 L733.5,432.8 L734.0,437.3 L734.5,441.8 L734.9,446.2 L735.4,450.6 L735.9,455.0 L736.5,459.3 L737.0,463.7 L737.5,468.0 L738.0,472.2 L738.5,476.4 L739.0,480.6 L739.6,484.8 L740.1,488.9 L740.6,493.0 L741.1,497.0 L741.7,501.0 L742.2,505.0 L742.8,509.0 L743.3,512.9 L743.9,516.7 L744.4,520.5 L745.0,524.3 L745.6,528.1 L746.1,531.8 L746.7,535.4 L747.3,539.0 L747.8,542.6 L748.4,546.2 L749.0,549.7 L749.6,553.1 L750.2,556.5 L750.8,559.9 L751.4,563.2 L752.0,566.5 L752.6,569.8 L753.2,573.0 L753.8,576.1 L754.4,579.2 L755.1,582.3 L755.7,585.3 L756.3,588.3 L757.0,591.3 L757.6,594.2 L758.3,597.0 L759.0,599.9 L759.6,602.6 L760.3,605.4 L761.0,608.1 L761.7,610.7 L762.3,613.3 L763.0,615.9 L763.8,618.4 L764.5,620.9 L765.2,623.3 L765.9,625.8 L766.7,628.1 L767.4,630.4 L768.2,632.7 L768.9,635.0 L769.7,637.2 L770.5,639.3 L771.3,641.5 L772.1,643.5 L772.9,645.6 L773.7,647.6 L774.5,649.6 L775.3,651.5 L776.2,653.4 L777.0,655.3 L777.9,657.1 L778.8,658.9 L779.7,660.7 L780.6,662.4 L781.5,664.1 L782.4,665.7 L783.3,667.3 L784.3,668.9 L785.2,670.5 L786.2,672.0 L787.1,673.5 L788.1,674.9 L789.1,676.4 L790.0,677.8 L791.0,679.1 L792.0,680.5 L793.0,681.8 L794.1,683.0 L795.1,684.3 L796.1,685.5 L797.1,686.7 L798.2,687.9 L799.2,689.0 L800.2,690.1 L801.3,691.2 L802.3,692.3 L803.4,693.3 L804.4,694.3 L805.5,695.3 L806.5,696.2 L807.6,697.2 L808.7,698.1 L809.7,699.0 L810.8,699.9 L811.9,700.7 L812.9,701.5 L814.0,702.3 L815.0,703.1 L816.1,703.9 L817.2,704.6 L818.2,705.4 L819.3,706.1 L820.4,706.8 L821.4,707.4 L822.5,708.1 L823.5,708.7 L824.6,709.3 L825.7,709.9 L826.7,710.5 L827.8,711.1 L828.9,711.6 L829.9,712.2 L831.0,712.7 L832.0,713.2 L833.1,713.7 L834.2,714.2 L835.2,714.6 L836.3,715.1 L837.3,715.5 L838.4,716.0 L839.5,716.4 L840.5,716.8 L841.6,717.2 L842.7,717.5 L843.7,717.9 L844.8,718.3 L845.9,718.6 L846.9,718.9 L848.0,719.3 L849.1,719.6 L850.1,719.9 L851.2,720.2 L852.3,720.5 L853.4,720.7 L854.5,721.0 L855.5,721.3 L856.6,721.5 L857.7,721.8 L858.8,722.0 L859.9,722.2 L861.0,722.4 L862.1,722.7 L863.2,722.9 L864.3,723.1 L865.4,723.3 L866.5,723.4 L867.6,723.6 L868.7,723.8 L869.8,724.0 L870.9,724.1 L872.1,724.3 L873.2,724.4 L874.3,724.6 L875.5,724.7 L876.6,724.9 L877.7,725.0 L878.9,725.1 L880.0,725.2 L881.2,725.4 L882.4,725.5 L883.5,725.6 L884.7,725.7 L885.9,725.8 L887.0,725.9 L888.2,726.0 L889.4,726.1 L890.6,726.2 L891.8,726.3 L893.0,726.3 L894.2,726.4 L895.5,726.5 L896.7,726.6 L897.9,726.6 L899.1,726.7 L900.4,726.8 L901.6,726.8 L902.9,726.9 L904.1,727.0 L905.4,727.0 L906.7,727.1 L907.9,727.1 L909.2,727.2 L910.5,727.2 L911.8,727.3 L913.1,727.3 L914.4,727.3 L915.7,727.4 L917.0,727.4 L918.3,727.5 L919.6,727.5 L921.0,727.5 L922.3,727.6 L923.6,727.6 L925.0,727.6 L926.3,727.7 L927.7,727.7 L929.1,727.7 L930.4,727.7 L931.8,727.8 L933.2,727.8 L934.5,727.8 L935.9,727.8 L937.3,727.9 L938.7,727.9 L940.1,727.9 L941.5,727.9 L942.9,727.9 L944.2,727.9 L945.6,728.0 L947.1,728.0 L948.5,728.0 L949.9,728.0 L951.3,728.0 L952.7,728.0 L954.1,728.0 L955.5,728.1 L956.9,728.1 L958.3,728.1 L959.8,728.1 L961.2,728.1 L962.6,728.1 L964.0,728.1 L965.4,728.1 L966.8,728.1 L968.3,728.1 L969.7,728.2 L971.1,728.2 L972.5,728.2 L973.9,728.2 L975.4,728.2 L976.8,728.2 L978.2,728.2 L979.6,728.2 L981.0,728.2 L982.4,728.2 L983.8,728.2 L985.3,728.2 L986.7,728.2 L988.1,728.2 L989.5,728.2 L990.9,728.2 L992.3,728.2 L993.7,728.2 L998.0,728.3"/>
<path stroke="#800000" d="M130.0,727.6 L447.0,727.6 L448.5,727.6 L450.0,727.6 L451.5,727.6 L453.0,727.6 L454.5,727.6 L456.0,727.6 L457.5,727.6 L459.0,727.6 L460.5,727.6 L462.0,727.6 L463.5,727.6 L465.0,727.6 L466.6,727.6 L468.1,727.6 L469.6,727.6 L471.1,727.6 L472.6,727.6 L474.2,727.6 L475.7,727.5 L477.2,727.5 L478.7,727.5 L480.3,727.5 L481.8,727.5 L483.3,727.5 L484.9,727.5 L486.4,727.5 L488.0,727.5 L489.5,727.5 L491.0,727.5 L492.6,727.4 L494.2,727.4 L495.7,727.4 L497.3,727.4 L498.8,727.4 L500.4,727.3 L502.0,727.3 L503.5,727.3 L504.3,727.3 L505.1,727.3 L505.9,727.2 L506.7,727.2 L507.5,727.2 L508.2,727.2 L509.0,727.2 L509.8,727.2 L510.6,727.1 L511.4,727.1 L512.2,727.1 L513.0,727.1 L513.8,727.0 L514.6,727.0 L515.4,727.0 L516.2,727.0 L517.0,726.9 L517.8,726.9 L518.6,726.9 L519.4,726.8 L520.2,726.8 L521.0,726.8 L521.8,726.7 L522.6,726.7 L523.4,726.6 L524.2,726.6 L525.0,726.6 L525.8,726.5 L526.6,726.5 L527.4,726.4 L528.2,726.4 L529.0,726.3 L529.9,726.3 L530.7,726.2 L531.5,726.1 L532.3,726.1 L533.1,726.0 L533.9,725.9 L534.7,725.9 L535.6,725.8 L536.4,725.7 L537.2,725.6 L538.0,725.6 L538.8,725.5 L539.7,725.4 L540.5,725.3 L541.3,725.2 L542.1,725.1 L543.0,725.0 L543.8,724.9 L544.6,724.8 L545.4,724.7 L546.3,724.5 L547.1,724.4 L547.9,724.3 L548.7,724.2 L549.6,724.0 L550.4,723.9 L551.2,723.7 L552.1,723.6 L552.9,723.4 L553.7,723.3 L554.5,723.1 L555.4,722.9 L556.2,722.7 L557.0,722.6 L557.9,722.4 L558.7,722.2 L559.5,722.0 L560.4,721.7 L561.2,721.5 L562.0,721.3 L562.9,721.1 L563.7,720.8 L564.5,720.6 L565.3,720.3 L566.2,720.0 L567.0,719.8 L567.8,719.5 L568.6,719.2 L569.5,718.9 L570.3,718.6 L571.1,718.2 L571.9,717.9 L572.7,717.6 L573.6,717.2 L574.4,716.8 L575.2,716.5 L576.0,716.1 L576.8,715.7 L577.6,715.3 L578.4,714.8 L579.2,714.4 L580.0,714.0 L580.8,713.5 L581.6,713.0 L582.4,712.5 L583.2,712.0 L584.0,711.5 L584.8,711.0 L585.6,710.4 L586.3,709.8 L587.1,709.3 L587.9,708.7 L588.7,708.0 L589.4,707.4 L590.2,706.8 L591.0,706.1 L591.7,705.4 L592.5,704.7 L593.2,704.0 L594.0,703.2 L594.7,702.5 L595.5,701.7 L596.2,700.9 L597.0,700.0 L597.7,699.2 L598.4,698.3 L599.2,697.4 L599.9,696.5 L600.6,695.6 L601.3,694.6 L602.1,693.6 L602.8,692.6 L603.5,691.6 L604.2,690.5 L604.9,689.5 L605.6,688.3 L606.3,687.2 L607.0,686.0 L607.7,684.9 L608.4,683.6 L609.1,682.4 L609.8,681.1 L610.5,679.8 L611.1,678.5 L611.8,677.1 L612.5,675.7 L613.2,674.3 L613.8,672.8 L614.5,671.4 L615.2,669.8 L615.8,668.3 L616.5,666.7 L617.2,665.1 L617.8,663.4 L618.5,661.7 L619.1,660.0 L619.8,658.3 L620.4,656.5 L621.1,654.7 L621.7,652.8 L622.4,650.9 L623.0,649.0 L623.6,647.0 L624.3,645.0 L624.9,642.9 L625.5,640.8 L626.2,638.7 L626.8,636.6 L627.4,634.4 L628.0,632.1 L628.7,629.8 L629.3,627.5 L629.9,625.2 L630.5,622.8 L631.1,620.3 L631.7,617.8 L632.3,615.3 L632.9,612.8 L633.5,610.1 L634.1,607.5 L634.7,604.8 L635.3,602.1 L635.9,599.3 L636.5,596.5 L637.1,593.6 L637.7,590.7 L638.3,587.8 L638.9,584.8 L639.4,581.8 L640.0,578.7 L640.6,575.6 L641.2,572.4 L641.7,569.2 L642.3,566.0 L642.8,562.7 L643.4,559.4 L643.9,556.0 L644.5,552.6 L645.0,549.1 L645.6,545.7 L646.1,542.1 L646.7,538.5 L647.2,534.9 L647.7,531.3 L648.3,527.6 L648.8,523.8 L649.3,520.1 L649.8,516.2 L650.3,512.4 L650.9,508.5 L651.4,504.6 L651.9,500.6 L652.4,496.6 L652.9,492.5 L653.4,488.5 L653.8,484.3 L654.3,480.2 L654.8,476.0 L655.3,471.8 L655.8,467.5 L656.2,463.2 L656.7,458.9 L657.2,454.6 L657.6,450.2 L658.1,445.8 L658.6,441.4 L659.0,436.9 L659.5,432.4 L659.9,427.9 L660.4,423.4 L660.8,418.8 L661.2,414.2 L661.7,409.6 L662.1,405.0 L662.5,400.3 L663.0,395.7 L663.4,391.0 L663.8,386.3 L664.2,381.6 L664.7,376.8 L665.1,372.1 L665.5,367.3 L665.9,362.6 L666.3,357.8 L666.7,353.0 L667.1,348.2 L667.5,343.4 L667.9,338.6 L668.3,333.8 L668.7,329.0 L669.1,324.2 L669.5,319.4 L669.9,314.6 L670.3,309.8 L670.7,305.0 L671.0,300.2 L671.4,295.5 L671.8,290.7 L672.2,286.0 L672.6,281.2 L672.9,276.5 L673.3,271.8 L673.7,267.1 L674.0,262.4 L674.4,257.8 L674.8,253.1 L675.1,248.5 L675.5,244.0 L675.9,239.4 L676.2,234.9 L676.6,230.4 L676.9,225.9 L677.3,221.5 L677.7,217.1 L678.0,212.8 L678.4,208.4 L678.7,204.2 L679.1,199.9 L679.4,195.7 L679.8,191.6 L680.1,187.5 L680.5,183.4 L680.8,179.4 L681.2,175.5 L681.5,171.6 L681.9,167.7 L682.2,163.9 L682.5,160.2 L682.9,156.5 L683.2,152.9 L683.6,149.3 L683.9,145.8 L684.2,142.4 L684.6,139.0 L684.9,135.7 L685.2,132.5 L685.6,129.3 L685.9,126.2 L686.3,123.2 L686.6,120.3 L686.9,117.4 L687.3,114.6 L687.6,111.9 L687.9,109.2 L688.2,106.7 L688.6,104.2 L688.9,101.8 L689.2,99.5 L689.6,97.2 L689.9,95.1 L690.2,93.0 L690.6,91.0 L690.9,89.1 L691.2,87.3 L691.5,85.6 L691.9,83.9 L692.2,82.4 L692.5,81.0 L692.8,79.6 L693.2,78.3 L693.5,77.1 L693.8,76.0 L694.1,75.1 L694.5,74.2 L694.8,73.3 L695.1,72.6 L695.4,72.0 L695.8,71.5 L696.4,70.7 L697.1,70.3 L698.0,70.5 L698.7,71.1 L699.3,72.0 L699.6,72.6 L699.9,73.3 L700.2,74.2 L700.6,75.1 L700.9,76.0 L701.2,77.1 L701.5,78.3 L701.8,79.6 L702.1,81.0 L702.5,82.4 L702.8,83.9 L703.1,85.6 L703.4,87.3 L703.7,89.1 L704.1,91.0 L704.4,93.0 L704.7,95.1 L705.0,97.2 L705.4,99.5 L705.7,101.8 L706.0,104.2 L706.3,106.7 L706.7,109.2 L707.0,111.9 L707.3,114.6 L707.6,117.4 L708.0,120.3 L708.3,123.2 L708.6,126.2 L709.0,129.3 L709.3,132.5 L709.6,135.7 L710.0,139.0 L710.3,142.4 L710.7,145.8 L711.0,149.3 L711.3,152.9 L711.7,156.5 L712.0,160.2 L712.4,163.9 L712.7,167.7 L713.1,171.6 L713.4,175.5 L713.8,179.4 L714.1,183.4 L714.5,187.5 L714.8,191.6 L715.2,195.7 L715.6,199.9 L715.9,204.2 L716.3,208.4 L716.7,212.8 L717.0,217.1 L717.4,221.5 L717.8,225.9 L718.2,230.4 L718.5,234.9 L718.9,239.4 L719.3,244.0 L719.7,248.5 L720.1,253.1 L720.5,257.8 L720.9,262.4 L721.3,267.1 L721.7,271.8 L722.1,276.5 L722.5,281.2 L722.9,286.0 L723.3,290.7 L723.7,295.5 L724.1,300.2 L724.5,305.0 L724.9,309.8 L725.4,314.6 L725.8,319.4 L726.2,324.2 L726.7,329.0 L727.1,333.8 L727.6,338.6 L728.0,343.4 L728.4,348.2 L728.9,353.0 L729.4,357.8 L729.8,362.6 L730.3,367.3 L730.8,372.1 L731.2,376.8 L731.7,381.6 L732.2,386.3 L732.7,391.0 L733.1,395.7 L733.6,400.3 L734.1,405.0 L734.6,409.6 L735.1,414.2 L735.6,418.8 L736.1,423.4 L736.6,427.9 L737.2,432.4 L737.7,436.9 L738.2,441.4 L738.7,445.8 L739.3,450.2 L739.8,454.6 L740.3,458.9 L740.9,463.2 L741.4,467.5 L742.0,471.8 L742.5,476.0 L743.1,480.2 L743.6,484.3 L744.2,488.5 L744.8,492.5 L745.3,496.6 L745.9,500.6 L746.5,504.6 L747.1,508.5 L747.6,512.4 L748.2,516.2 L748.8,520.1 L749.4,523.8 L750.0,527.6 L750.6,531.3 L751.2,534.9 L751.8,538.5 L752.4,542.1 L753.1,545.7 L753.7,549.1 L754.3,552.6 L754.9,556.0 L755.6,559.4 L756.2,562.7 L756.8,566.0 L757.5,569.2 L758.1,572.4 L758.8,575.6 L759.5,578.7 L760.1,581.8 L760.8,584.8 L761.5,587.8 L762.2,590.7 L762.9,593.6 L763.6,596.5 L764.3,599.3 L765.0,602.1 L765.7,604.8 L766.4,607.5 L767.1,610.1 L767.9,612.8 L768.6,615.3 L769.4,617.8 L770.1,620.3 L770.9,622.8 L771.7,625.2 L772.5,627.5 L773.3,629.8 L774.1,632.1 L774.9,634.4 L775.7,636.6 L776.5,638.7 L777.4,640.8 L778.2,642.9 L779.1,645.0 L779.9,647.0 L780.8,649.0 L781.7,650.9 L782.6,652.8 L783.5,654.7 L784.4,656.5 L785.4,658.3 L786.3,660.0 L787.3,661.7 L788.2,663.4 L789.2,665.1 L790.2,666.7 L791.2,668.3 L792.2,669.8 L793.2,671.4 L794.2,672.8 L795.3,674.3 L796.3,675.7 L797.3,677.1 L798.4,678.5 L799.5,679.8 L800.5,681.1 L801.6,682.4 L802.7,683.6 L803.8,684.9 L804.9,686.0 L806.0,687.2 L807.1,688.3 L808.2,689.5 L809.3,690.5 L810.4,691.6 L811.5,692.6 L812.7,693.6 L813.8,694.6 L814.9,695.6 L816.0,696.5 L817.2,697.4 L818.3,698.3 L819.4,699.2 L820.5,700.0 L821.7,700.9 L822.8,701.7 L823.9,702.5 L825.1,703.2 L826.2,704.0 L827.3,704.7 L828.5,705.4 L829.6,706.1 L830.7,706.8 L831.8,707.4 L833.0,708.0 L834.1,708.7 L835.2,709.3 L836.4,709.8 L837.5,710.4 L838.6,711.0 L839.8,711.5 L840.9,712.0 L842.0,712.5 L843.1,713.0 L844.3,713.5 L845.4,714.0 L846.5,714.4 L847.7,714.8 L848.8,715.3 L849.9,715.7 L851.1,716.1 L852.2,716.5 L853.3,716.8 L854.4,717.2 L855.6,717.6 L856.7,717.9 L857.9,718.2 L859.0,718.6 L860.1,718.9 L861.3,719.2 L862.4,719.5 L863.6,719.8 L864.7,720.0 L865.9,720.3 L867.0,720.6 L868.2,720.8 L869.3,721.1 L870.5,721.3 L871.6,721.5 L872.8,721.7 L874.0,722.0 L875.1,722.2 L876.3,722.4 L877.5,722.6 L878.7,722.7 L879.8,722.9 L881.0,723.1 L882.2,723.3 L883.4,723.4 L884.6,723.6 L885.8,723.7 L887.0,723.9 L888.2,724.0 L889.4,724.2 L890.6,724.3 L891.9,724.4 L893.1,724.5 L894.3,724.7 L895.5,724.8 L896.8,724.9 L898.0,725.0 L899.3,725.1 L900.5,725.2 L901.8,725.3 L903.1,725.4 L904.3,725.5 L905.6,725.6 L906.9,725.6 L908.2,725.7 L909.5,725.8 L910.8,725.9 L912.1,725.9 L913.4,726.0 L914.7,726.1 L916.0,726.1 L917.4,726.2 L918.7,726.3 L920.0,726.3 L921.4,726.4 L922.8,726.4 L924.1,726.5 L925.5,726.5 L926.9,726.6 L928.2,726.6 L929.6,726.6 L931.0,726.7 L932.4,726.7 L933.8,726.8 L935.2,726.8 L936.6,726.8 L938.0,726.9 L939.5,726.9 L940.9,726.9 L942.3,727.0 L943.8,727.0 L945.2,727.0 L946.7,727.0 L948.1,727.1 L949.6,727.1 L951.0,727.1 L952.5,727.1 L954.0,727.2 L955.5,727.2 L956.9,727.2 L958.4,727.2 L959.9,727.2 L961.4,727.2 L962.9,727.3 L964.4,727.3 L965.9,727.3 L967.4,727.3 L968.9,727.3 L970.4,727.3 L971.9,727.3 L973.4,727.4 L974.9,727.4 L976.4,727.4 L977.9,727.4 L979.4,727.4 L980.9,727.4 L982.4,727.4 L983.9,727.4 L985.4,727.4 L986.9,727.4 L988.4,727.5 L990.0,727.5 L991.5,727.5 L993.0,727.5 L998.0,727.6"/>
</g>
<g stroke-width="6.4" stroke-linecap="round">
<line x1="165.1" y1="53.2" x2="251.8" y2="53.2" stroke="#000000"/>
<line x1="165.1" y1="102.1" x2="251.8" y2="102.1" stroke="#ff0000"/>
<line x1="165.1" y1="150.9" x2="251.8" y2="150.9" stroke="#00ff00"/>
<line x1="165.1" y1="199.8" x2="251.8" y2="199.8" stroke="#0000ff"/>
<line x1="165.1" y1="248.6" x2="251.8" y2="248.6" stroke="#800000"/>
</g>
<g font-family="'Liberation Sans', sans-serif" font-weight="700" fill="#000">
<text x="261.8" y="65.4" font-size="38.6">Control QLED</text>
<text x="261.8" y="114.3" font-size="38.6">EBL-QLED A</text>
<text x="261.8" y="163.2" font-size="38.6">EBL-QLED B</text>
<text x="261.8" y="212.1" font-size="38.6">EBL-QLED C</text>
<text x="261.8" y="261.0" font-size="38.6">EBL-QLED D</text>
<text transform="translate(179.1,778) scale(0.975,1)" font-size="40.3" text-anchor="middle">400</text>
<text transform="translate(405.2,778) scale(0.975,1)" font-size="40.3" text-anchor="middle">500</text>
<text transform="translate(631.4,778) scale(0.975,1)" font-size="40.3" text-anchor="middle">600</text>
<text transform="translate(857.6,778) scale(0.975,1)" font-size="40.3" text-anchor="middle">700</text>
<text x="116" y="739.2" font-size="40" text-anchor="end">0.0</text>
<text x="116" y="607.7" font-size="40" text-anchor="end">0.2</text>
<text x="116" y="476.2" font-size="40" text-anchor="end">0.4</text>
<text x="116" y="344.8" font-size="40" text-anchor="end">0.6</text>
<text x="116" y="213.3" font-size="40" text-anchor="end">0.8</text>
<text x="116" y="81.8" font-size="40" text-anchor="end">1.0</text>
<text transform="translate(563.5,854.8) scale(0.984,1)" font-size="50.3" text-anchor="middle">Wavelength (nm)</text>
<text transform="translate(40.3,365) rotate(-90) scale(0.95,1)" font-size="51.7" text-anchor="middle">Normalized Intensity (a.u.)</text>
</g>
</svg>
</body>
</html>
